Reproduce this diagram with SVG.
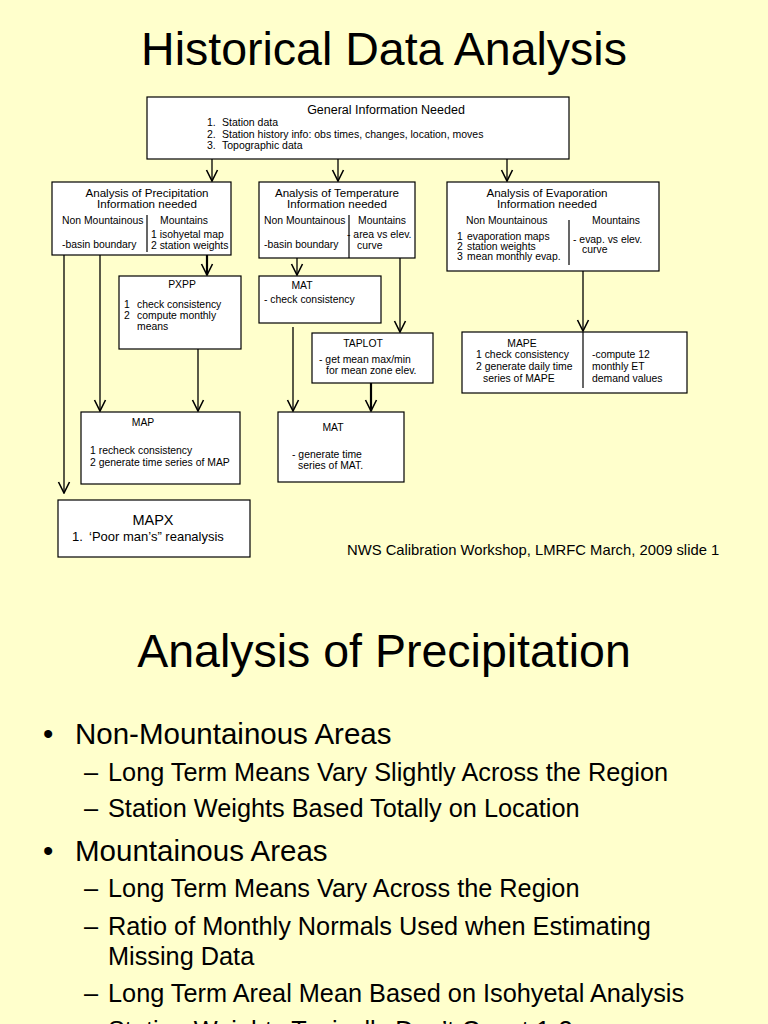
<svg xmlns="http://www.w3.org/2000/svg" width="768" height="1024" viewBox="0 0 768 1024">
<style>
text{font-family:"Liberation Sans",Arial,Helvetica,sans-serif;fill:#000}
.box{fill:#fff;stroke:#000;stroke-width:1.2}
.div{stroke:#000;stroke-width:1.2;fill:none}
.t{font-size:10.4px}
.h{font-size:11.6px}
.m{text-anchor:middle}
.big{font-size:46.5px;text-anchor:middle}
.b1{font-size:29.5px}
.b2{font-size:25.3px}
.c{stroke:#000;stroke-width:1.3;fill:none;marker-end:url(#ah)}
.cb{stroke-width:2.2}
</style>
<defs>
<marker id="ah" viewBox="-13 -7 14 14" refX="0" refY="0" markerWidth="14" markerHeight="14" orient="auto" markerUnits="userSpaceOnUse">
<path d="M-11,-5.5 L0,0 L-11,5.5" fill="none" stroke="#000" stroke-width="1.6"/>
</marker>
</defs>
<rect x="0" y="0" width="768" height="1024" fill="#FFFFCC"/>

<text class="big" x="384" y="65">Historical Data Analysis</text>

<g id="general">
<rect class="box" x="147" y="97" width="422" height="62"/>
<text class="m" x="386" y="114" style="font-size:12.5px">General Information Needed</text>
<text class="t" x="207" y="126" style="font-size:10.5px">1.</text><text x="222" y="126" style="font-size:10.5px">Station data</text>
<text class="t" x="207" y="137.5" style="font-size:10.5px">2.</text><text x="222" y="137.5" style="font-size:10.5px">Station history info: obs times, changes, location, moves</text>
<text class="t" x="207" y="149" style="font-size:10.5px">3.</text><text x="222" y="149" style="font-size:10.5px">Topographic data</text>
</g>

<g id="precip">
<rect class="box" x="52" y="182" width="179" height="73"/>
<text class="h m" x="147" y="197">Analysis of Precipitation</text>
<text class="h m" x="147" y="208">Information needed</text>
<line class="div" x1="147" y1="215" x2="147" y2="252"/>
<text class="t" x="62" y="224">Non Mountainous</text>
<text class="t" x="160" y="224">Mountains</text>
<text class="t" x="62" y="248">-basin boundary</text>
<text class="t" x="151" y="238">1 isohyetal map</text>
<text class="t" x="151" y="249">2 station weights</text>
</g>

<g id="temp">
<rect class="box" x="259" y="182" width="156" height="76"/>
<text class="h m" x="337" y="197">Analysis of Temperature</text>
<text class="h m" x="337" y="208">Information needed</text>
<line class="div" x1="349" y1="215" x2="349" y2="258"/>
<text class="t" x="264" y="224">Non Mountainous</text>
<text class="t" x="358" y="224">Mountains</text>
<text class="t" x="264" y="248">-basin boundary</text>
<text class="t" x="347" y="238">- area vs elev.</text>
<text class="t" x="357" y="249">curve</text>
</g>

<g id="evap">
<rect class="box" x="447" y="182" width="212" height="89"/>
<text class="h m" x="547" y="197">Analysis of Evaporation</text>
<text class="h m" x="547" y="208">Information needed</text>
<line class="div" x1="569" y1="220" x2="569" y2="265"/>
<text class="t" x="466" y="224">Non Mountainous</text>
<text class="t" x="592" y="224">Mountains</text>
<text class="t" x="457" y="240">1</text><text class="t" x="467" y="240">evaporation maps</text>
<text class="t" x="457" y="250">2</text><text class="t" x="467" y="250">station weights</text>
<text class="t" x="457" y="260">3</text><text class="t" x="467" y="260">mean monthly evap.</text>
<text class="t" x="573" y="243">- evap. vs elev.</text>
<text class="t" x="582" y="253">curve</text>
</g>

<g id="pxpp">
<rect class="box" x="119" y="276" width="122" height="73"/>
<text class="t m" x="182" y="288">PXPP</text>
<text class="t" x="124" y="308">1</text><text class="t" x="137" y="308">check consistency</text>
<text class="t" x="124" y="319">2</text><text class="t" x="137" y="319">compute monthly</text>
<text class="t" x="137" y="330">means</text>
</g>

<g id="mat1">
<rect class="box" x="259" y="276" width="122" height="47"/>
<text class="t m" x="302" y="289">MAT</text>
<text class="t" x="264" y="303">- check consistency</text>
</g>

<g id="taplot">
<rect class="box" x="312" y="333" width="121" height="50"/>
<text class="t m" x="363" y="347">TAPLOT</text>
<text class="t" x="319" y="363">- get mean max/min</text>
<text class="t" x="326" y="374">for mean zone elev.</text>
</g>

<g id="mape">
<rect class="box" x="462" y="332" width="225" height="61"/>
<line class="div" x1="583" y1="332" x2="583" y2="388"/>
<text class="t m" x="522" y="347">MAPE</text>
<text class="t" x="476" y="358">1 check consistency</text>
<text class="t" x="476" y="370">2 generate daily time</text>
<text class="t" x="483" y="382">series of MAPE</text>
<text class="t" x="592" y="358">-compute 12</text>
<text class="t" x="592" y="370">monthly ET</text>
<text class="t" x="592" y="382">demand values</text>
</g>

<g id="map">
<rect class="box" x="81" y="412" width="159" height="72"/>
<text class="t m" x="143" y="426">MAP</text>
<text class="t" x="90" y="454">1 recheck consistency</text>
<text class="t" x="90" y="466">2 generate time series of MAP</text>
</g>

<g id="mat2">
<rect class="box" x="278" y="412" width="126" height="70"/>
<text class="t m" x="333" y="431">MAT</text>
<text class="t" x="292" y="458">- generate time</text>
<text class="t" x="298" y="469">series of MAT.</text>
</g>

<g id="mapx">
<rect class="box" x="58" y="500" width="192" height="57"/>
<text class="m" x="153" y="525" style="font-size:14.5px">MAPX</text>
<text x="72" y="541" style="font-size:13px">1.</text>
<text x="89" y="541" style="font-size:13px">‘Poor man’s” reanalysis</text>
</g>

<g id="connectors">
<line class="c" x1="212" y1="159" x2="212" y2="181"/>
<line class="c" x1="338" y1="159" x2="338" y2="181"/>
<line class="c" x1="507" y1="159" x2="507" y2="181"/>
<line class="c cb" x1="207" y1="255" x2="207" y2="275"/>
<line class="c" x1="297" y1="258" x2="297" y2="275"/>
<line class="c" x1="400" y1="258" x2="400" y2="332"/>
<line class="c" x1="583" y1="271" x2="583" y2="331"/>
<line class="c" x1="198" y1="349" x2="198" y2="411"/>
<line class="c" x1="100" y1="255" x2="100" y2="411"/>
<line class="c" x1="64" y1="255" x2="64" y2="493"/>
<line class="c" x1="293" y1="327" x2="293" y2="411"/>
<line class="c cb" x1="371" y1="383" x2="371" y2="411"/>
</g>

<text x="347" y="555" style="font-size:14.8px">NWS Calibration Workshop, LMRFC March, 2009 slide 1</text>

<text class="big" x="384" y="667">Analysis of Precipitation</text>

<g id="bullets">
<text class="b1" x="43" y="744">•</text><text class="b1" x="75" y="744">Non-Mountainous Areas</text>
<text class="b2" x="84" y="781">–</text><text class="b2" x="108" y="781">Long Term Means Vary Slightly Across the Region</text>
<text class="b2" x="84" y="817">–</text><text class="b2" x="108" y="817">Station Weights Based Totally on Location</text>
<text class="b1" x="43" y="861">•</text><text class="b1" x="75" y="861">Mountainous Areas</text>
<text class="b2" x="84" y="897">–</text><text class="b2" x="108" y="897">Long Term Means Vary Across the Region</text>
<text class="b2" x="84" y="935">–</text><text class="b2" x="108" y="935">Ratio of Monthly Normals Used when Estimating</text>
<text class="b2" x="108" y="965">Missing Data</text>
<text class="b2" x="84" y="1002">–</text><text class="b2" x="108" y="1002">Long Term Areal Mean Based on Isohyetal Analysis</text>
<text class="b2" x="84" y="1039">–</text><text class="b2" x="108" y="1039">Station Weights Typically Don’t Count 1-2</text>
</g>
</svg>
